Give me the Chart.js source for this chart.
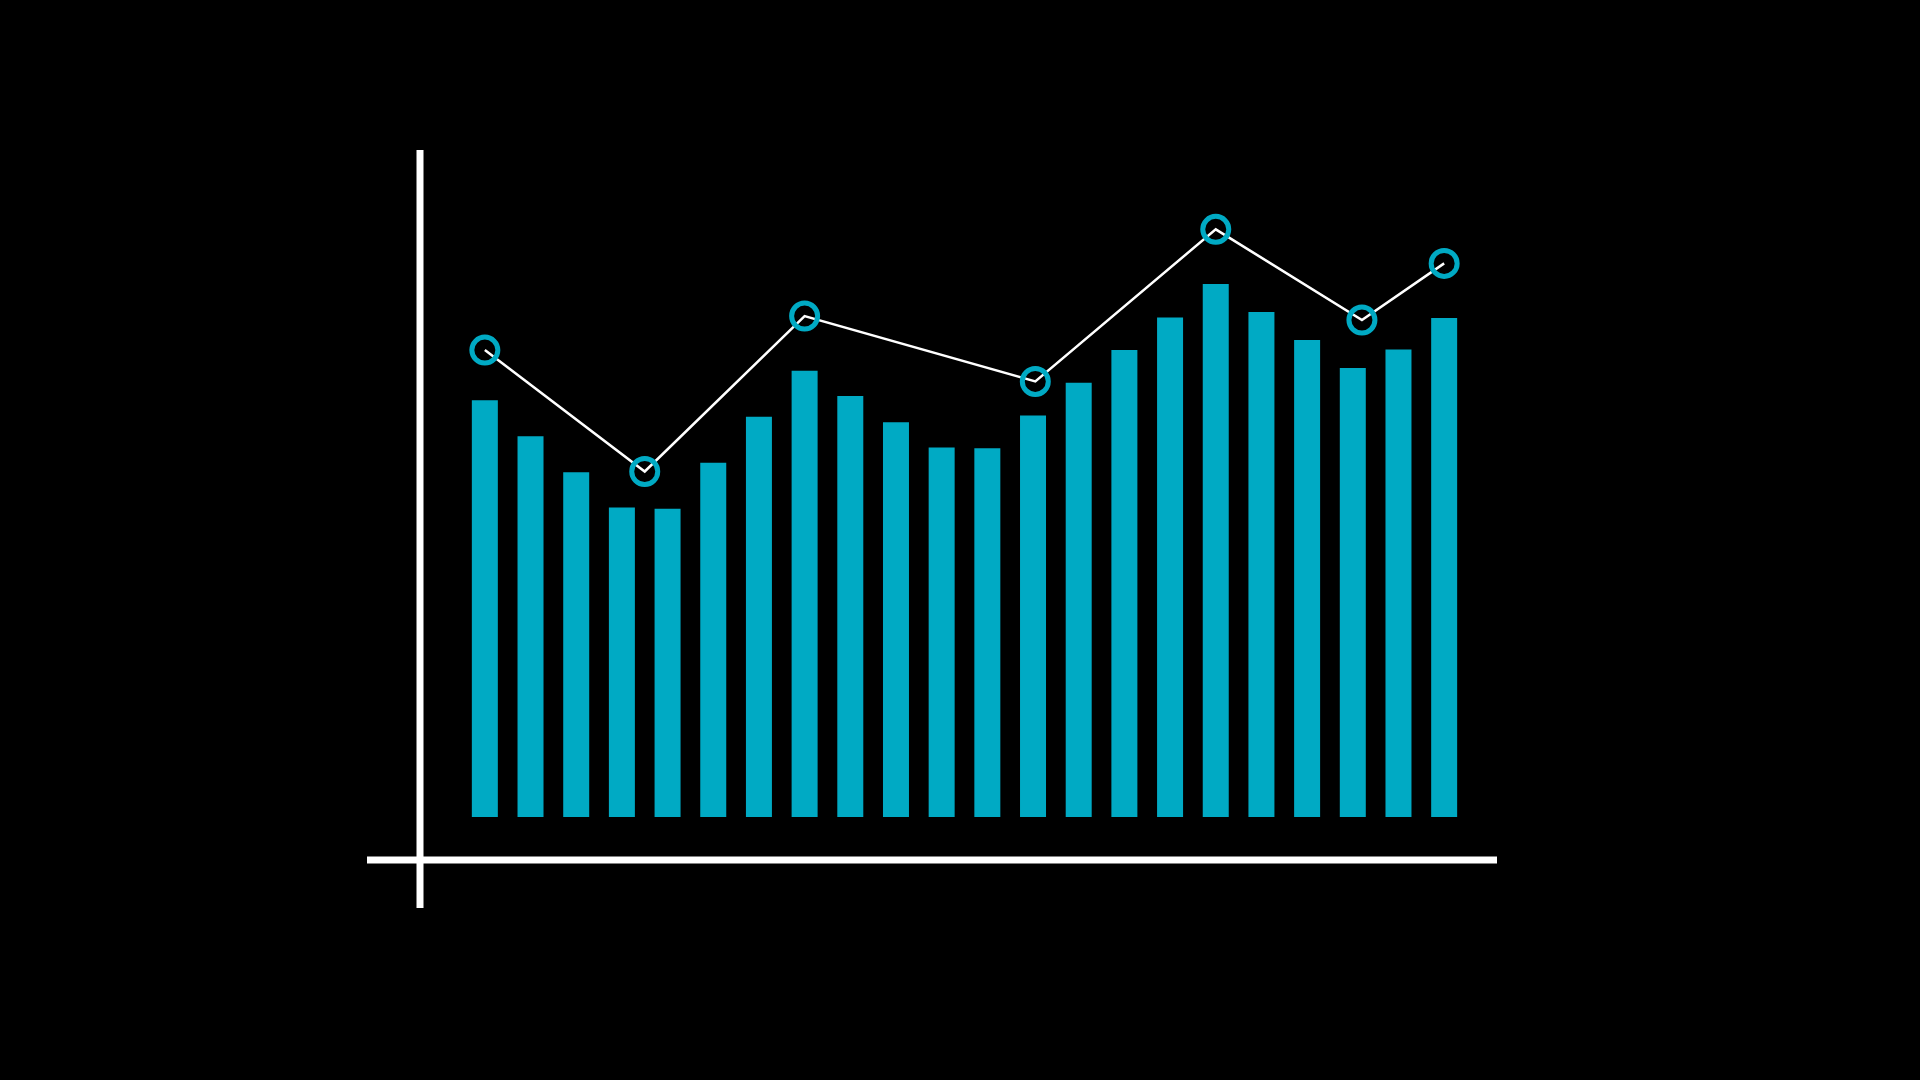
<!DOCTYPE html>
<html>
<head>
<meta charset="utf-8">
<script src="https://cdn.jsdelivr.net/npm/chart.js@4/dist/chart.umd.min.js"></script>
<style>
  html, body { margin: 0; padding: 0; background: #000; width: 1920px; height: 1080px; overflow: hidden; }
  #wrap { position: absolute; left: 0; top: 0; width: 1920px; height: 1080px; }
</style>
</head>
<body>
<div id="wrap"><canvas id="c"></canvas></div>
<script>
// ---- data ----
const categories = ['1','2','3','4','5','6','7','8','9','10','11','12','13','14','15','16','17','18','19','20','21','22'];
const barValues = [62.5, 57.1, 51.7, 46.4, 46.2, 53.1, 60.0, 66.9, 63.1, 59.2, 55.4, 55.3, 60.2, 65.1, 70.0, 74.9, 79.9, 75.7, 71.5, 67.3, 70.1, 74.8];
const linePositions = [0, 3.5, 7, 12.05, 16, 19.2, 21];
const lineValues = [70.0, 51.8, 75.1, 65.3, 88.1, 74.5, 83.0];

const TEAL = '#00AAC4';

const axesPlugin = {
  id: 'axesDecor',
  beforeDatasetsDraw(chart) {
    const { ctx, chartArea: a } = chart;
    ctx.save();
    ctx.strokeStyle = '#ffffff';
    ctx.lineWidth = 7;
    ctx.lineCap = 'butt';
    // vertical axis
    ctx.beginPath();
    ctx.moveTo(a.left - 42, a.top);
    ctx.lineTo(a.left - 42, a.bottom + 91);
    ctx.stroke();
    // horizontal axis
    ctx.beginPath();
    ctx.moveTo(a.left - 95, a.bottom + 43);
    ctx.lineTo(a.right + 30, a.bottom + 43);
    ctx.stroke();
    ctx.restore();
  }
};

new Chart(document.getElementById('c'), {
  type: 'bar',
  data: {
    labels: categories,
    datasets: [
      {
        type: 'line',
        data: linePositions.map((x, i) => ({ x: x, y: lineValues[i] })),
        xAxisID: 'x2',
        borderColor: '#ffffff',
        borderWidth: 2.5,
        tension: 0,
        fill: false,
        pointRadius: 13,
        pointBorderWidth: 5,
        pointBorderColor: TEAL,
        pointBackgroundColor: 'rgba(0,0,0,0)',
        order: 0
      },
      {
        type: 'bar',
        data: barValues,
        xAxisID: 'x',
        backgroundColor: TEAL,
        borderWidth: 0,
        grouped: false,
        barPercentage: 0.569,
        categoryPercentage: 1.0,
        order: 1
      }
    ]
  },
  options: {
    responsive: true,
    maintainAspectRatio: false,
    devicePixelRatio: 1,
    animation: false,
    layout: { padding: { left: 462, right: 453, top: 150, bottom: 263 } },
    plugins: { legend: { display: false }, tooltip: { enabled: false } },
    scales: {
      x: { type: 'category', display: false, offset: true },
      x2: { type: 'linear', display: false, offset: false, grid: { offset: false }, min: -0.5, max: 21.5 },
      y: { type: 'linear', display: false, min: 0, max: 100 }
    }
  },
  plugins: [axesPlugin]
});
</script>
</body>
</html>
